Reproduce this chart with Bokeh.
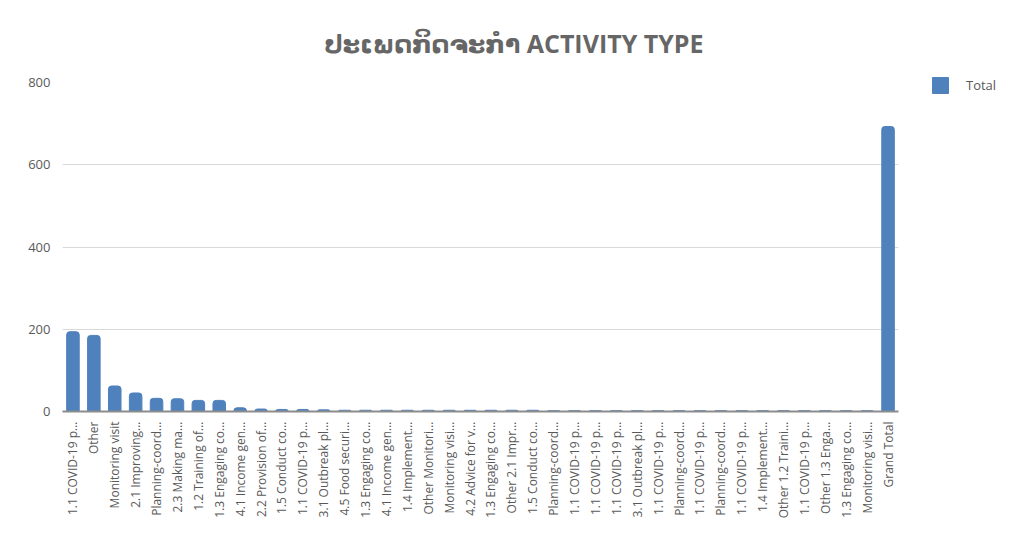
import math
from bokeh.plotting import figure
from bokeh.models import ColumnDataSource, FixedTicker, Legend, LegendItem, Range1d, Title
from bokeh.embed import file_html
from bokeh.resources import INLINE

title_text = "ປະເພດກິດຈະກຳ ACTIVITY TYPE"
series_name = "Total"

categories = [
    "1.1 COVID-19 p...", "Other", "Monitoring visit", "2.1 Improving...",
    "Planning-coord...", "2.3 Making ma...", "1.2 Training of...", "1.3 Engaging co...",
    "4.1 Income gen...", "2.2 Provision of...", "1.5 Conduct co...", "1.1 COVID-19 p...",
    "3.1 Outbreak pl...", "4.5 Food securi...", "1.3 Engaging co...", "4.1 Income gen...",
    "1.4 Implement...", "Other Monitori...", "Monitoring visi...", "4.2 Advice for v...",
    "1.3 Engaging co...", "Other 2.1 Impr...", "1.5 Conduct co...", "Planning-coord...",
    "1.1 COVID-19 p...", "1.1 COVID-19 p...", "1.1 COVID-19 p...", "3.1 Outbreak pl...",
    "1.1 COVID-19 p...", "Planning-coord...", "1.1 COVID-19 p...", "Planning-coord...",
    "1.1 COVID-19 p...", "1.4 Implement...", "Other 1.2 Traini...", "1.1 COVID-19 p...",
    "Other 1.3 Enga...", "1.3 Engaging co...", "Monitoring visi...", "Grand Total",
]

totals = [
    194, 185, 62, 45, 32, 31, 27, 27, 9, 6, 5, 5, 4,
    3, 3, 3, 3, 3, 3, 3, 3, 3, 3,
    2, 2, 2, 2, 2, 2, 2, 2, 2, 2, 2, 2, 2, 2, 2, 2,
    693,
]

y_ticks = [0, 200, 400, 600, 800]

BLUE = "#4f81bd"
GRAY = "#595959"
FONT = "'Open Sans', 'DejaVu Sans', sans-serif"

xs = list(range(len(categories)))
src = ColumnDataSource(dict(x=xs, top=totals))

p = figure(frame_width=836, frame_height=329, output_backend="svg", toolbar_location=None,
           x_range=Range1d(-0.5, len(categories) - 0.5), y_range=Range1d(0, 800),
           min_border_left=62, min_border_right=126, min_border_top=82, min_border_bottom=149)
p.outline_line_color = None
p.background_fill_color = "white"
p.border_fill_color = "white"

r = p.vbar(x="x", top="top", width=0.6, source=src, fill_color=BLUE, line_color=BLUE,
           border_radius=(3, 3, 0, 0))

# axes
p.xaxis.ticker = FixedTicker(ticks=xs)
p.xaxis.major_label_overrides = {i: c for i, c in enumerate(categories)}
p.xaxis.major_label_orientation = math.pi / 2
p.xaxis.major_label_text_font = FONT
p.xaxis.major_label_text_font_size = "12px"
p.xaxis.major_label_text_color = GRAY
p.xaxis.major_tick_line_color = None
p.xaxis.minor_tick_line_color = None
p.xaxis.axis_line_color = "#8c8c8c"
p.xaxis.axis_line_width = 2
p.xaxis.major_label_standoff = 4

p.yaxis.ticker = FixedTicker(ticks=y_ticks)
p.yaxis.major_label_text_font = FONT
p.yaxis.major_label_text_font_size = "13px"
p.yaxis.major_label_text_color = GRAY
p.yaxis.axis_line_color = None
p.yaxis.major_tick_line_color = None
p.yaxis.minor_tick_line_color = None
p.yaxis.major_label_standoff = 6

p.xgrid.grid_line_color = None
p.ygrid.grid_line_color = "#d9d9d9"
p.ygrid.grid_line_width = 1

# title
t = Title(text=title_text, align="left", text_font=FONT, text_font_size="25px",
          text_font_style="bold", text_color="#666666", standoff=46, offset=262)
p.add_layout(t, "above")

legend = Legend(items=[LegendItem(label=series_name, renderers=[r])],
                location=(32, 316), border_line_color=None, background_fill_alpha=0,
                glyph_width=20, glyph_height=20, label_text_font=FONT,
                label_text_font_size="13px", label_text_color=GRAY,
                margin=0, padding=0, label_standoff=16)
p.add_layout(legend, "right")

open("out.html", "w").write(file_html(p, INLINE))
